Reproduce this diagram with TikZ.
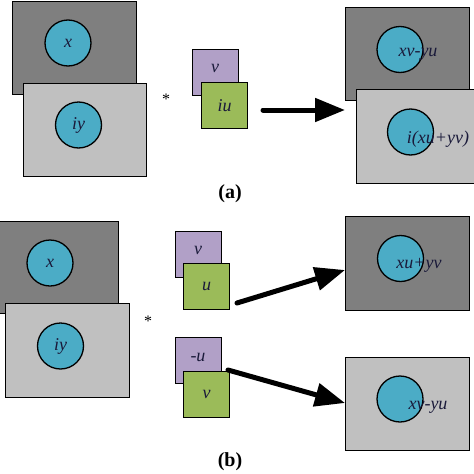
\documentclass[tikz,border=0pt]{standalone}
\usepackage{fontspec}
\setmainfont{Liberation Serif}
\usetikzlibrary{arrows.meta}
\definecolor{darkbox}{HTML}{7F7F7F}
\definecolor{lightbox}{HTML}{C0C0C0}
\definecolor{cyanc}{HTML}{4BACC6}
\definecolor{purp}{HTML}{B1A0C7}
\definecolor{gr}{HTML}{9BBB59}
\definecolor{ink}{HTML}{1A1A3A}
\tikzset{
  box/.style={draw=black, line width=1.3pt, rectangle, inner sep=0pt, anchor=north west},
  darkb/.style={box, fill=darkbox},
  lightb/.style={box, fill=lightbox},
  sq/.style={box, minimum width=46pt, minimum height=46pt, text=ink, font=\fontsize{18}{21}\selectfont\itshape},
  purpb/.style={sq, fill=purp},
  greenb/.style={sq, fill=gr},
  circ/.style={draw=black, line width=1.3pt, circle, fill=cyanc, minimum size=46pt, inner sep=0pt, text=ink, font=\fontsize{18}{21}\selectfont\itshape},
  lbl/.style={text=ink, font=\fontsize{18}{21}\selectfont\itshape, inner sep=0pt},
  bigarrow/.style={line width=5pt, line cap=round, -{Triangle[length=30pt, width=23pt]}},
  captext/.style={font=\fontsize{20}{24}\selectfont\bfseries, inner sep=0pt},
  startext/.style={font=\fontsize{16}{18}\selectfont, inner sep=0pt}
}
\begin{document}
\begin{tikzpicture}[x=1pt, y=-1pt]
\useasboundingbox (0,0) rectangle (474,474);
% ---------- (a) ----------
\node[darkb, minimum width=124pt, minimum height=93pt] (ad) at (12,1) {};
\node[circ] (ax) at (68,43) {x};
\node[lightb, minimum width=123pt, minimum height=93pt] (al) at (23,83) {};
\node[circ] (aiy) at (78.5,125) {iy};
\node[startext] (astar) at (166,99) {*};
\node[purpb] (av) at (192,49) {};
\node[lbl, anchor=north] (avl) at (215,64) {v};
\node[greenb] (aiu) at (201,82) {iu};
\node[darkb, minimum width=124pt, minimum height=93pt] (ard) at (345,7) {};
\node[circ] (arc1) at (400,49.5) {};
\node[lbl] (art1) at (418,54) {xv-yu};
\node[lightb, minimum width=124pt, minimum height=94pt] (arl) at (356,89) {};
\node[circ] (arc2) at (410.5,132) {};
\node[lbl] (art2) at (438,139) {i(xu+yv)};
\coordinate (aa1) at (263,110);
\coordinate (aa2) at (345,110);
\draw[bigarrow] (aa1) -- (aa2);
\node[captext] (capa) at (230,194) {(a)};
% ---------- (b) ----------
\node[darkb, minimum width=120pt, minimum height=92pt] (bd) at (-2,221) {};
\node[circ] (bx) at (50,263) {x};
\node[lightb, minimum width=124pt, minimum height=94pt] (bl) at (5,303) {};
\node[circ] (biy) at (60.5,346) {iy};
\node[startext] (bstar) at (148,321) {*};
\node[purpb] (bv) at (175,231) {};
\node[lbl, anchor=north] (bvl) at (198,246) {v};
\node[greenb] (bu) at (183,263) {u};
\node[purpb] (bmu) at (175,337) {};
\node[lbl, anchor=north] (bmul) at (198,353) {-u};
\node[greenb] (bv2) at (183,371) {v};
\node[darkb, minimum width=124pt, minimum height=94pt] (brd) at (345,216) {};
\node[circ] (brc1) at (400.5,258.5) {};
\node[lbl] (brt1) at (419,265) {xu+yv};
\node[lightb, minimum width=124pt, minimum height=93pt] (brl) at (345,357) {};
\node[circ] (brc2) at (400,399) {};
\node[lbl] (brt2) at (428,407) {xv-yu};
\coordinate (ba1) at (237,303);
\coordinate (ba2) at (345,270);
\coordinate (bb1) at (228,370);
\coordinate (bb2) at (345,403);
\draw[bigarrow] (ba1) -- (ba2);
\draw[bigarrow] (bb1) -- (bb2);
\node[captext] (capb) at (230,462) {(b)};
\end{tikzpicture}
\end{document}
